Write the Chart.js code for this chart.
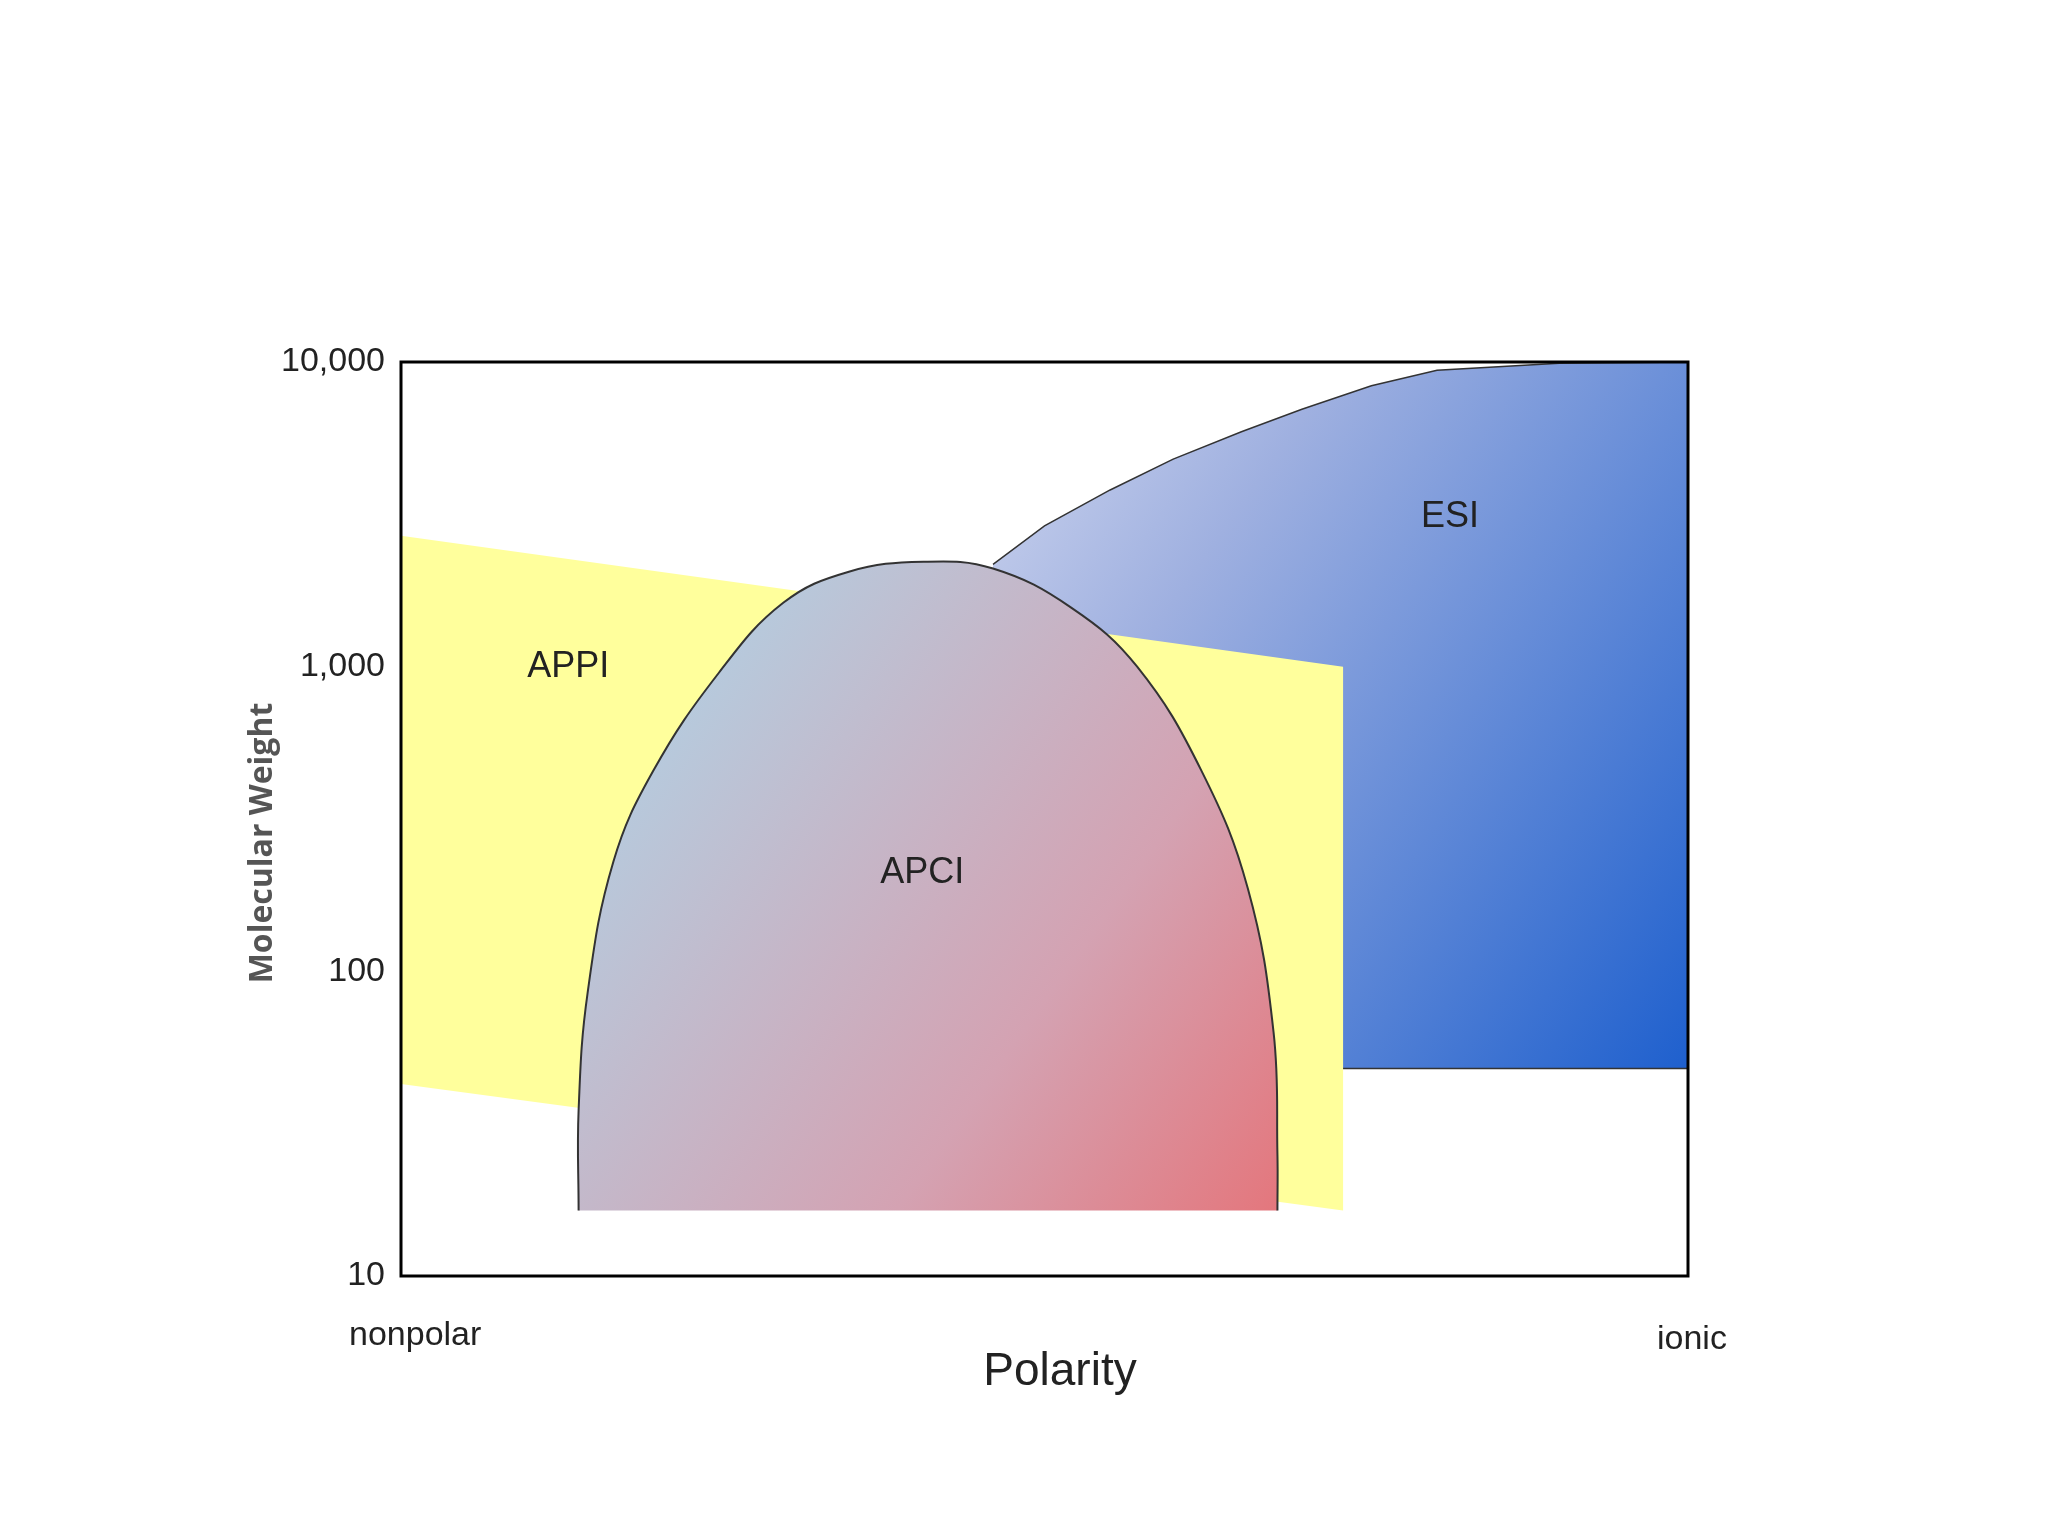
<!DOCTYPE html>
<html><head><meta charset="utf-8">
<script src="https://cdn.jsdelivr.net/npm/chart.js@4/dist/chart.umd.min.js"></script>
<style>html,body{margin:0;background:#fff}#w{width:2048px;height:1536px}</style>
</head><body><div id="w"><canvas id="c"></canvas></div>
<script>
const yTicks = [10, 100, 1000, 10000];
const yTickLabels = ['10', '100', '1,000', '10,000'];
const appiX = [0, 73.2, 73.2, 0];
const appiY = [2690, 1000, 16.4, 42.7];
const esiX = [46, 50, 55.1, 60, 65.3, 70, 75.4, 80.5, 90, 100, 100, 73.2, 46];
const esiY = [2168, 2900, 3802, 4800, 5900, 7000, 8360, 9400, 9900, 10000, 48, 48, 48];
const apciX = [13.8, 13.8, 14.5, 16.5, 19.6, 24.7, 29.7, 34.8, 40.6, 46, 52.1, 57.2, 62.2, 65.8, 67.8, 68.1, 68.1];
const apciY = [16.4, 35, 85, 229, 455, 955, 1620, 2050, 2210, 2100, 1560, 1000, 455, 187, 63, 25, 16.4];
const regionNames = ['APPI', 'ESI', 'APCI'];
const regionLabelX = [13, 81.5, 40.5];
const regionLabelY = [1000, 3100, 210];

const pts = (xs, ys) => xs.map((x, i) => ({x, y: ys[i]}));
function grad(ctx, stops) {
  const a = ctx.chart.chartArea;
  if (!a) return stops[0][1];
  const g = ctx.chart.ctx.createLinearGradient(a.left + a.width*0.15, a.top + a.height*0.2, a.left + a.width*0.95, a.bottom);
  stops.forEach(s => g.addColorStop(s[0], s[1]));
  return g;
}
const overlay = {
  id: 'overlay',
  afterDraw(chart) {
    const c = chart.ctx, a = chart.chartArea, xs = chart.scales.x, ys = chart.scales.y;
    c.save();
    c.strokeStyle = '#000'; c.lineWidth = 3;
    c.strokeRect(a.left, a.top, a.width, a.height);
    c.fillStyle = '#222'; c.font = '36px "Liberation Sans", Arial';
    c.textAlign = 'center'; c.textBaseline = 'middle';
    regionNames.forEach((n, i) => c.fillText(n, xs.getPixelForValue(regionLabelX[i]), ys.getPixelForValue(regionLabelY[i])));
    c.font = '34px "Liberation Sans", Arial';
    c.textAlign = 'left';
    c.fillText('nonpolar', 349, 1336);
    c.fillText('ionic', 1657, 1340);
    c.textAlign = 'center';
    c.font = '46px "Liberation Sans", Arial';
    c.fillText('Polarity', 1060, 1372);
    c.translate(263, 843); c.rotate(-Math.PI/2);
    c.fillStyle = '#555'; c.font = 'bold 32px "Open Sans", Arial';
    c.fillText('Molecular Weight', 0, 0);
    c.restore();
  }
};
new Chart(document.getElementById('c'), {
  type: 'scatter',
  data: { datasets: [
    { order: 3, data: pts(esiX, esiY), showLine: true, fill: 'shape', tension: 0, borderColor: '#333', borderWidth: 1.5, pointRadius: 0,
      backgroundColor: ctx => grad(ctx, [[0, '#f4f4fa'], [0.4, '#9fb0e0'], [1, '#1258cc']]) },
    { order: 2, data: pts(appiX, appiY), showLine: true, fill: 'shape', borderWidth: 0, borderColor: 'rgba(0,0,0,0)', pointRadius: 0, backgroundColor: '#ffff9c' },
    { order: 1, data: pts(apciX, apciY), showLine: true, fill: 'shape', tension: 0.4, borderColor: '#333', borderWidth: 2, pointRadius: 0,
      backgroundColor: ctx => grad(ctx, [[0, '#acd8ec'], [0.5, '#d4a2b2'], [1, '#f44a46']]) }
  ]},
  options: {
    responsive: true, maintainAspectRatio: false, animation: false,
    layout: { padding: { left: 0, top: 362, right: 360, bottom: 260 } },
    plugins: { legend: { display: false }, tooltip: { enabled: false } },
    scales: {
      x: { type: 'linear', min: 0, max: 100, display: false },
      y: { type: 'logarithmic', min: 10, max: 10000, grid: { display: false }, border: { display: false },
        afterFit: s => { s.width = 401; },
        afterBuildTicks: s => { s.ticks = yTicks.map(v => ({value: v})); },
        ticks: { color: '#222', font: { size: 34, family: '"Liberation Sans", Arial' }, padding: 8,
          callback: v => yTickLabels[yTicks.indexOf(v)] } }
    }
  },
  plugins: [overlay]
});
</script></body></html>
